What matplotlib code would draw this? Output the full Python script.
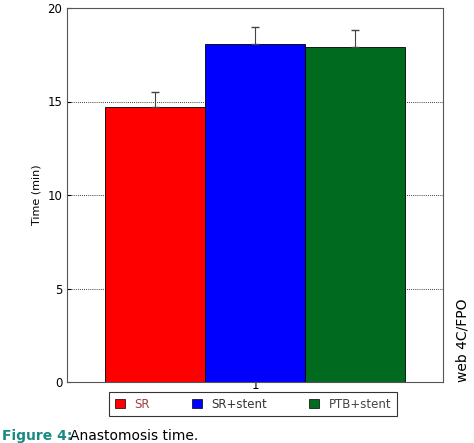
import matplotlib
matplotlib.use("Agg")
import matplotlib.pyplot as plt
from matplotlib.patches import Patch

groups = ["SR", "SR+stent", "PTB+stent"]
times = [14.7, 18.1, 17.9]
errors = [0.8, 0.9, 0.9]
colors = ["#ff0000", "#0000ff", "#006a1e"]

fig = plt.figure(figsize=(4.74, 4.43), dpi=100)
ax = fig.add_axes([67/474, 1-382/443, 376/474, 374/443])

w = 0.8 / 3
xs = [1 - w, 1, 1 + w]
for x, t, e, c in zip(xs, times, errors, colors):
    ax.bar(x, t, width=w, color=c, edgecolor="black", linewidth=0.6, zorder=2)
    ax.errorbar(x, t, yerr=[[0], [e]], fmt="none", ecolor="#444444", capsize=3, linewidth=0.8, zorder=3)

ax.set_xlim(0.5, 1.5)
ax.set_ylim(0, 20)
ax.set_yticks([0, 5, 10, 15, 20])
ax.set_xticks([1])
ax.tick_params(direction="in", labelsize=8.5, length=3)
ax.tick_params(axis="x", pad=-2)
ax.yaxis.grid(True, linestyle=(0, (1, 1.5)), color="black", linewidth=0.6, zorder=0)
ax.set_axisbelow(True)
ax.set_ylabel("Time (min)", fontsize=8)
for s in ax.spines.values():
    s.set_color("#555555")

handles = [Patch(facecolor=c, edgecolor="black", linewidth=0.5) for c in colors]
leg = fig.legend(handles, groups, loc="center", bbox_to_anchor=(253/474, 1-404/443), ncol=3,
                 fontsize=8.5, frameon=True, fancybox=False, edgecolor="black",
                 handlelength=0.9, handleheight=0.9, columnspacing=3.5, borderpad=0.45)
leg.get_frame().set_linewidth(0.8)
for t, c in zip(leg.get_texts(), ["#a04040", "#333333", "#444444"]):
    t.set_color(c)

fig.text(2/474, 1-436/443, "Figure 4:", color="#1a8a84", fontweight="bold", fontsize=10, va="center")
fig.text(70/474, 1-436/443, "Anastomosis time.", color="black", fontsize=10, va="center")
fig.text(463/474, 1-340/443, "web 4C/FPO", rotation=90, fontsize=10, va="center", ha="center")

fig.savefig("out.png", dpi=100)
